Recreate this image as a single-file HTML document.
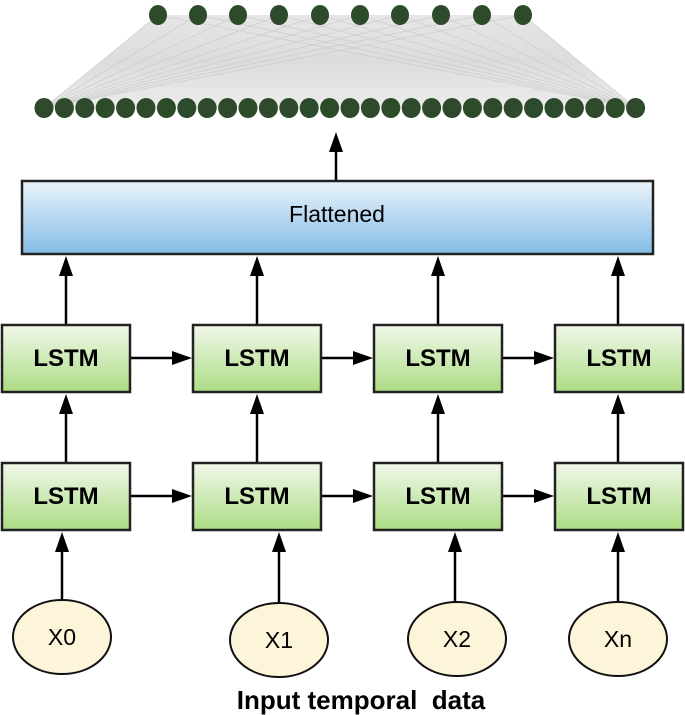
<!DOCTYPE html>
<html><head><meta charset="utf-8"><style>body{margin:0;background:#fff}svg{display:block}</style></head>
<body>
<svg width="685" height="715" viewBox="0 0 685 715" xmlns="http://www.w3.org/2000/svg" font-family="Liberation Sans, sans-serif">
<defs>
<linearGradient id="bl" x1="0" y1="0" x2="0" y2="1"><stop offset="0" stop-color="#eaf4fb"/><stop offset="1" stop-color="#84bce6"/></linearGradient>
<linearGradient id="gr" x1="0" y1="0" x2="0" y2="1"><stop offset="0" stop-color="#f1f8ea"/><stop offset="1" stop-color="#acdc84"/></linearGradient>
<linearGradient id="mesh" x1="0" y1="0" x2="0" y2="1"><stop offset="0" stop-color="#e6e6e6"/><stop offset="0.5" stop-color="#dcdcdc"/><stop offset="1" stop-color="#ececec"/></linearGradient>
</defs>
<polygon points="158,15 523,15 636,108 44,108" fill="url(#mesh)"/>
<g stroke="#c8c8c8" stroke-width="0.6">
<line x1="158" y1="15" x2="44" y2="108"/><line x1="158" y1="15" x2="636" y2="108"/>
<line x1="198" y1="15" x2="44" y2="108"/><line x1="198" y1="15" x2="636" y2="108"/>
<line x1="238" y1="15" x2="44" y2="108"/><line x1="238" y1="15" x2="636" y2="108"/>
<line x1="279" y1="15" x2="44" y2="108"/><line x1="279" y1="15" x2="636" y2="108"/>
<line x1="320" y1="15" x2="44" y2="108"/><line x1="320" y1="15" x2="636" y2="108"/>
<line x1="360" y1="15" x2="44" y2="108"/><line x1="360" y1="15" x2="636" y2="108"/>
<line x1="400" y1="15" x2="44" y2="108"/><line x1="400" y1="15" x2="636" y2="108"/>
<line x1="441" y1="15" x2="44" y2="108"/><line x1="441" y1="15" x2="636" y2="108"/>
<line x1="482" y1="15" x2="44" y2="108"/><line x1="482" y1="15" x2="636" y2="108"/>
<line x1="523" y1="15" x2="44" y2="108"/><line x1="523" y1="15" x2="636" y2="108"/>
</g>
<g fill="#2d4a2b">
<ellipse cx="158" cy="15" rx="9" ry="10"/><ellipse cx="198" cy="15" rx="9" ry="10"/><ellipse cx="238" cy="15" rx="9" ry="10"/><ellipse cx="279" cy="15" rx="9" ry="10"/><ellipse cx="320" cy="15" rx="9" ry="10"/><ellipse cx="360" cy="15" rx="9" ry="10"/><ellipse cx="400" cy="15" rx="9" ry="10"/><ellipse cx="441" cy="15" rx="9" ry="10"/><ellipse cx="482" cy="15" rx="9" ry="10"/><ellipse cx="523" cy="15" rx="9" ry="10"/>
<ellipse cx="44" cy="108" rx="9.5" ry="10"/><ellipse cx="64.4" cy="108" rx="9.5" ry="10"/><ellipse cx="84.8" cy="108" rx="9.5" ry="10"/><ellipse cx="105.2" cy="108" rx="9.5" ry="10"/><ellipse cx="125.6" cy="108" rx="9.5" ry="10"/><ellipse cx="146" cy="108" rx="9.5" ry="10"/><ellipse cx="166.4" cy="108" rx="9.5" ry="10"/><ellipse cx="186.8" cy="108" rx="9.5" ry="10"/><ellipse cx="207.2" cy="108" rx="9.5" ry="10"/><ellipse cx="227.6" cy="108" rx="9.5" ry="10"/>
<ellipse cx="248" cy="108" rx="9.5" ry="10"/><ellipse cx="268.4" cy="108" rx="9.5" ry="10"/><ellipse cx="288.8" cy="108" rx="9.5" ry="10"/><ellipse cx="309.2" cy="108" rx="9.5" ry="10"/><ellipse cx="329.6" cy="108" rx="9.5" ry="10"/><ellipse cx="350" cy="108" rx="9.5" ry="10"/><ellipse cx="370.4" cy="108" rx="9.5" ry="10"/><ellipse cx="390.8" cy="108" rx="9.5" ry="10"/><ellipse cx="411.2" cy="108" rx="9.5" ry="10"/><ellipse cx="431.6" cy="108" rx="9.5" ry="10"/>
<ellipse cx="452" cy="108" rx="9.5" ry="10"/><ellipse cx="472.4" cy="108" rx="9.5" ry="10"/><ellipse cx="492.8" cy="108" rx="9.5" ry="10"/><ellipse cx="513.2" cy="108" rx="9.5" ry="10"/><ellipse cx="533.6" cy="108" rx="9.5" ry="10"/><ellipse cx="554" cy="108" rx="9.5" ry="10"/><ellipse cx="574.4" cy="108" rx="9.5" ry="10"/><ellipse cx="594.8" cy="108" rx="9.5" ry="10"/><ellipse cx="615.2" cy="108" rx="9.5" ry="10"/><ellipse cx="635.6" cy="108" rx="9.5" ry="10"/>
</g>
<g stroke="#000" stroke-width="2.5" fill="none">
<line x1="336" y1="181" x2="336" y2="145"/>
<line x1="66" y1="325" x2="66" y2="270"/><line x1="257" y1="325" x2="257" y2="270"/><line x1="438" y1="325" x2="438" y2="270"/><line x1="618" y1="325" x2="618" y2="270"/>
<line x1="66" y1="463" x2="66" y2="408"/><line x1="257" y1="463" x2="257" y2="408"/><line x1="438" y1="463" x2="438" y2="408"/><line x1="618" y1="463" x2="618" y2="408"/>
<line x1="130" y1="358" x2="178" y2="358"/><line x1="321" y1="358" x2="359" y2="358"/><line x1="502" y1="358" x2="540" y2="358"/>
<line x1="130" y1="496" x2="178" y2="496"/><line x1="321" y1="496" x2="359" y2="496"/><line x1="502" y1="496" x2="540" y2="496"/>
<line x1="62" y1="600" x2="62" y2="545"/><line x1="279" y1="603" x2="279" y2="545"/><line x1="455" y1="602" x2="455" y2="545"/><line x1="618" y1="602" x2="618" y2="545"/>
</g>
<g fill="#000">
<polygon points="329,152 336,132 343,152"/>
<polygon points="59,276 66,256 73,276"/><polygon points="250,276 257,256 264,276"/><polygon points="431,276 438,256 445,276"/><polygon points="611,276 618,256 625,276"/>
<polygon points="59,414 66,394 73,414"/><polygon points="250,414 257,394 264,414"/><polygon points="431,414 438,394 445,414"/><polygon points="611,414 618,394 625,414"/>
<polygon points="172,351 192,358 172,365"/><polygon points="353,351 373,358 353,365"/><polygon points="534,351 554,358 534,365"/>
<polygon points="172,489 192,496 172,503"/><polygon points="353,489 373,496 353,503"/><polygon points="534,489 554,496 534,503"/>
<polygon points="55,552 62,532 69,552"/><polygon points="272,552 279,532 286,552"/><polygon points="448,552 455,532 462,552"/><polygon points="611,552 618,532 625,552"/>
</g>
<rect x="22" y="181" width="631" height="73" fill="url(#bl)" stroke="#222" stroke-width="2.5"/>
<text x="337" y="222" font-size="23" text-anchor="middle">Flattened</text>
<g stroke="#222" stroke-width="2.5" fill="url(#gr)">
<rect x="2" y="325" width="128" height="67"/><rect x="193" y="325" width="128" height="67"/><rect x="374" y="325" width="128" height="67"/><rect x="555" y="325" width="128" height="67"/>
<rect x="2" y="463" width="128" height="67"/><rect x="193" y="463" width="128" height="67"/><rect x="374" y="463" width="128" height="67"/><rect x="555" y="463" width="128" height="67"/>
</g>
<g font-size="24" font-weight="bold" text-anchor="middle">
<text x="66" y="366">LSTM</text><text x="257" y="366">LSTM</text><text x="438" y="366">LSTM</text><text x="619" y="366">LSTM</text>
<text x="66" y="504">LSTM</text><text x="257" y="504">LSTM</text><text x="438" y="504">LSTM</text><text x="619" y="504">LSTM</text>
</g>
<g fill="#fdf5d9" stroke="#111" stroke-width="2">
<ellipse cx="62" cy="637" rx="49" ry="37"/><ellipse cx="279" cy="640" rx="49" ry="37"/><ellipse cx="457" cy="639" rx="49" ry="37"/><ellipse cx="618" cy="639" rx="49" ry="37"/>
</g>
<g font-size="23" text-anchor="middle">
<text x="62" y="645">X0</text><text x="279" y="648">X1</text><text x="457" y="647">X2</text><text x="618" y="647">Xn</text>
</g>
<text x="361" y="709" font-size="26" font-weight="bold" text-anchor="middle" xml:space="preserve">Input temporal  data</text>
</svg>
</body></html>
